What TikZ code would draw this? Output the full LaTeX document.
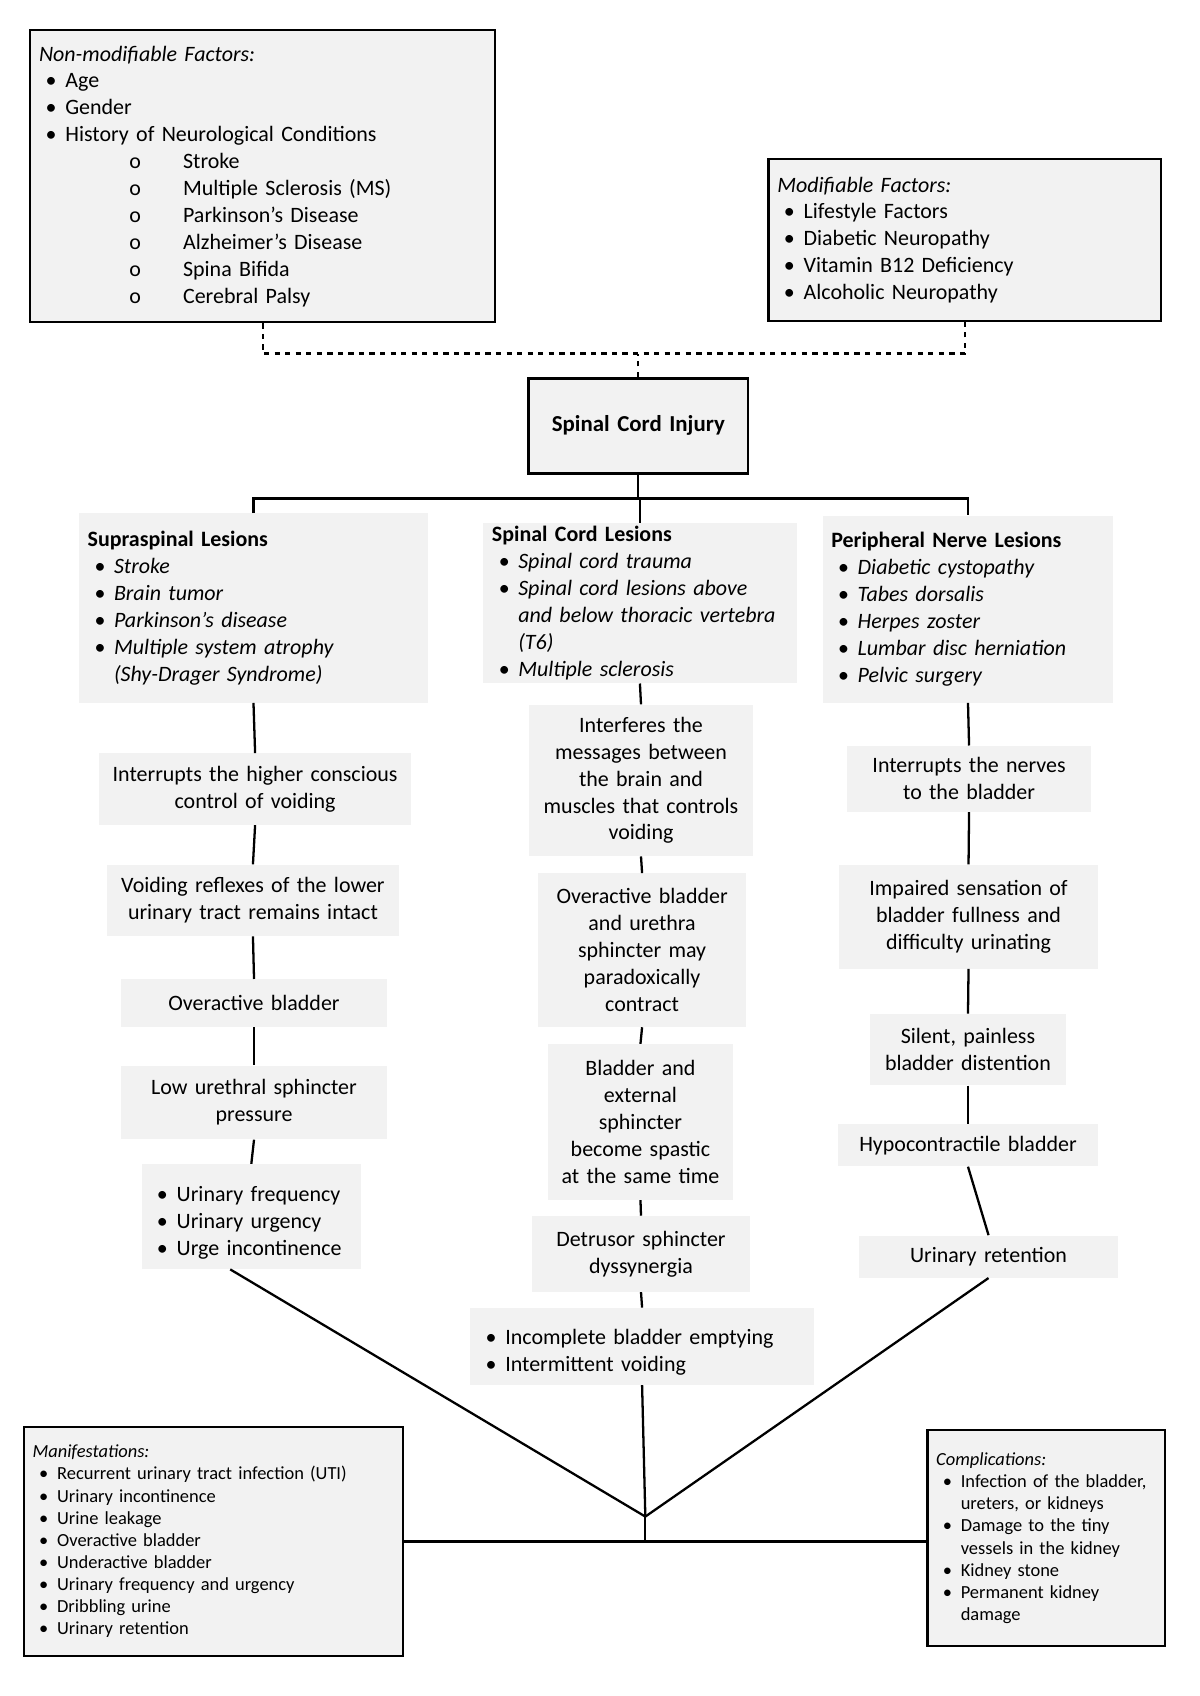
\documentclass[tikz,border=0pt]{standalone}
\usepackage{fontspec}
\setmainfont{Carlito}
\usepackage{enumitem}
\usetikzlibrary{positioning}
\definecolor{boxgray}{RGB}{242,242,242}
\setlist[itemize]{nosep,leftmargin=15pt,label=\textbullet,before=\raggedright}
\newcommand\bx[7][]{%
  \pgfmathsetmacro\bw{(#5-#3)*0.02162}%
  \pgfmathsetmacro\bh{(#6-#4)*0.02162}%
  \pgfmathsetmacro\tw{\bw-0.35}%
  \node[box,#1,minimum width=\bw cm,minimum height=\bh cm,text width=\tw cm]
    (#2) at ({(#3+#5)/2},{(#4+#6)/2}) {#7};}

\begin{document}
\begin{tikzpicture}[
    x=0.02162cm, y=-0.02162cm,
    box/.style={fill=boxgray, inner sep=0pt, align=center,
      font=\fontsize{12.5}{15.3}\selectfont},
    frame/.style={draw, line width=1.3pt, align=left},
    small/.style={font=\fontsize{10.5}{12.6}\selectfont},
    link/.style={line width=1.3pt},
    ]
    \useasboundingbox[fill=white] (0,0) rectangle (1110,1569);

    % risk factors
    \bx[frame]{nonmod}{28}{28}{458}{298}{\textit{Non-modifiable Factors:}
      \begin{itemize}
        \item Age
        \item Gender
        \item History of Neurological Conditions
        \begin{itemize}[leftmargin=67pt,label=o,labelsep=24pt]
          \item Stroke
          \item Multiple Sclerosis (MS)
          \item Parkinson's Disease
          \item Alzheimer's Disease
          \item Spina Bifida
          \item Cerebral Palsy
        \end{itemize}
      \end{itemize}}
    \bx[frame]{mod}{711}{147}{1074}{297}{\textit{Modifiable Factors:}
      \begin{itemize}
        \item Lifestyle Factors
        \item Diabetic Neuropathy
        \item Vitamin B12 Deficiency
        \item Alcoholic Neuropathy
      \end{itemize}}

    % main node
    \bx[draw,line width=1.5pt,font=\fontsize{13}{15.3}\selectfont\bfseries]{sci}{489}{350}{692}{438}{Spinal Cord Injury}

    % lesion types
    \bx{sup}{73}{475}{396}{650}{\textbf{Supraspinal Lesions}\itshape
      \begin{itemize}
        \item Stroke
        \item Brain tumor
        \item Parkinson's disease
        \item Multiple system atrophy (Shy-Drager Syndrome)
      \end{itemize}}
    \bx{spc}{447}{484}{737}{632}{\textbf{Spinal Cord Lesions}\itshape
      \begin{itemize}
        \item Spinal cord trauma
        \item Spinal cord lesions above and below thoracic vertebra (T6)
        \item Multiple sclerosis
      \end{itemize}}
    \bx{per}{761}{477}{1030}{650}{\textbf{Peripheral Nerve Lesions}\itshape
      \begin{itemize}
        \item Diabetic cystopathy
        \item Tabes dorsalis
        \item Herpes zoster
        \item Lumbar disc herniation
        \item Pelvic surgery
      \end{itemize}}

    % supraspinal column
    \bx{a1}{92}{697}{380}{763}{Interrupts the higher conscious\\control of voiding}
    \bx{a2}{99}{800}{369}{866}{Voiding reflexes of the lower\\urinary tract remains intact}
    \bx{a3}{112}{906}{358}{950}{Overactive bladder}
    \bx{a4}{112}{986}{358}{1054}{Low urethral sphincter\\pressure}
    \bx{a5}{131}{1077}{334}{1174}{\begin{itemize}
        \item Urinary frequency
        \item Urinary urgency
        \item Urge incontinence
      \end{itemize}}

    % spinal cord column
    \bx{b1}{489}{652}{697}{792}{Interferes the\\messages between\\the brain and\\muscles that controls\\voiding}
    \bx{b2}{498}{808}{690}{950}{Overactive bladder\\and urethra\\sphincter may\\paradoxically\\contract}
    \bx{b3}{507}{966}{678}{1110}{Bladder and\\external\\sphincter\\become spastic\\at the same time}
    \bx{b4}{492}{1125}{694}{1195}{Detrusor sphincter\\dyssynergia}
    \bx{b5}{435}{1210}{753}{1281}{\begin{itemize}
        \item Incomplete bladder emptying
        \item Intermittent voiding
      \end{itemize}}

    % peripheral column
    \bx{c1}{784}{690}{1009}{751}{Interrupts the nerves\\to the bladder}
    \bx{c2}{776}{800}{1016}{896}{Impaired sensation of\\bladder fullness and\\difficulty urinating}
    \bx{c3}{805}{938}{986}{1004}{Silent, painless\\bladder distention}
    \bx{c4}{775}{1040}{1016}{1079}{Hypocontractile bladder}
    \bx{c5}{795}{1143}{1034}{1182}{Urinary retention}

    % outcomes
    \bx[frame,small]{man}{22}{1320}{373}{1532}{\textit{Manifestations:}
      \begin{itemize}[leftmargin=14pt]
        \item Recurrent urinary tract infection (UTI)
        \item Urinary incontinence
        \item Urine leakage
        \item Overactive bladder
        \item Underactive bladder
        \item Urinary frequency and urgency
        \item Dribbling urine
        \item Urinary retention
      \end{itemize}}
    \bx[frame,small]{comp}{858}{1323}{1078}{1523}{\textit{Complications:}
      \begin{itemize}[leftmargin=14pt]
        \item Infection of the bladder, ureters, or kidneys
        \item Damage to the tiny vessels in the kidney
        \item Kidney stone
        \item Permanent kidney damage
      \end{itemize}\vspace{28pt}}

    % dashed links to injury
    \draw[dashed,link] (nonmod.south) -- ++(0,28) coordinate (d) -| (mod.south);
    \draw[dashed,link] (sci.north) -- (sci.north |- d);

    % branches
    \draw[link] (sci.south) -- ++(0,22) coordinate (j);
    \draw[link] (sup.north) -- (sup.north |- j) -- (per.north |- j) -- (per.north);
    \draw[link] (spc.north) -- (spc.north |- j);

    % column links
    \foreach \u/\v in {sup/a1,a1/a2,a2/a3,a3/a4,a4/a5,
                       spc/b1,b1/b2,b2/b3,b3/b4,b4/b5,
                       per/c1,c1/c2,c2/c3,c3/c4,c4/c5}
      \draw[link] (\u.south) -- (\v.north);

    % merge
    \coordinate (m) at (597,1403);
    \draw[link] ([xshift=-12pt]a5.south) -- (m);
    \draw[link] (b5.south) -- (m);
    \draw[link] (c5.south) -- (m);
    \draw[link] (m) -- (m |- man.east);
    \draw[link] (man.east) -- (man.east -| comp.west);
\end{tikzpicture}
\end{document}
